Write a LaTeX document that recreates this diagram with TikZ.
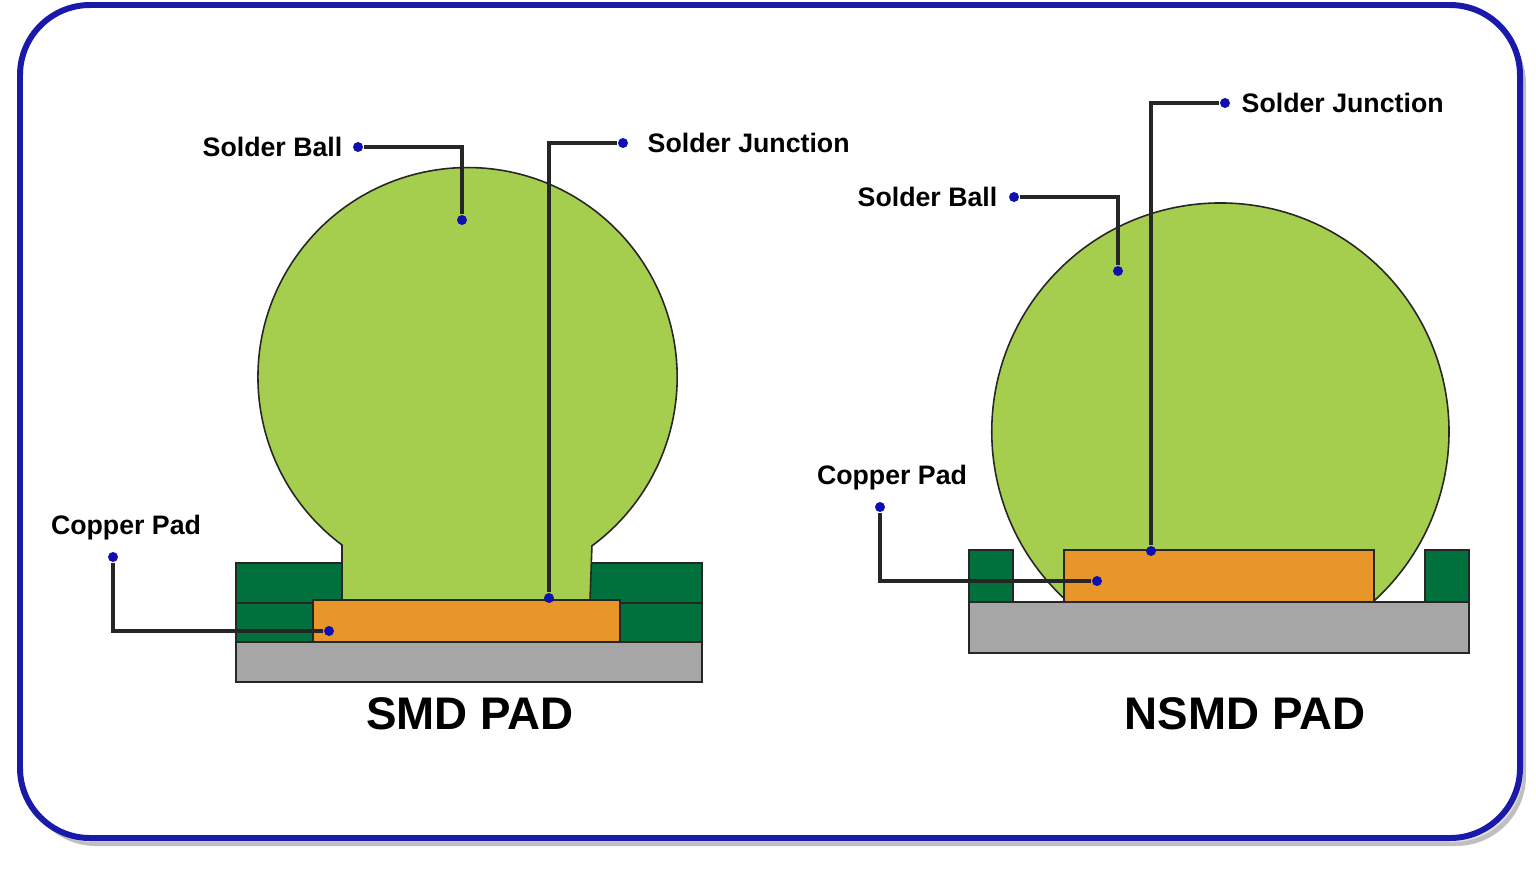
\documentclass[tikz,border=0pt]{standalone}
\usepackage{fontspec}
\setmainfont{Liberation Sans}
\begin{document}
\begin{tikzpicture}[x=0.01cm,y=-0.01cm,
  ol/.style={draw=black!85,line width=0.45pt},
  lead/.style={draw=black!85,line width=0.9pt},
  dot/.style={circle,fill=dotblue,inner sep=0pt,minimum size=0.1cm},
  lbl/.style={font=\bfseries\fontsize{7.6pt}{9pt}\selectfont,inner sep=0pt},
  ttl/.style={font=\bfseries\fontsize{13pt}{15pt}\selectfont,inner sep=0pt}]
\definecolor{ball}{HTML}{A6CE4E}
\definecolor{mask}{HTML}{00703C}
\definecolor{pad}{HTML}{E8962A}
\definecolor{sub}{HTML}{A6A6A6}
\definecolor{dotblue}{HTML}{1010B0}
\definecolor{frame}{HTML}{1A1AAA}
\useasboundingbox (0,0) rectangle (1536,872);
% frame with shadow
\fill[black!25,rounded corners=0.7cm] (26,14) rectangle (1526,846);
\fill[black!12,rounded corners=0.7cm] (23,10) rectangle (1523,842);
\draw[frame,line width=1.7pt,fill=white,rounded corners=0.7cm] (20,5) rectangle (1520,838);
% ===== SMD =====
\fill[sub,ol] (236,642) rectangle (702,682);
\fill[mask,ol] (236,563) rectangle (702,642);
\draw[ol] (236,603) -- (313,603) (620,603) -- (702,603);
\fill[ball,ol] (342,600) -- (342,545) arc[start angle=233.2,end angle=-53.6,radius=2.095cm] -- (590,600);
\fill[pad,ol] (313,600) rectangle (620,642);
% ===== NSMD =====
\fill[sub,ol] (969,602) rectangle (1469,653);
\fill[mask,ol] (969,550) rectangle (1013,602);
\fill[mask,ol] (1425,550) rectangle (1469,602);
\fill[ball,ol] (1068,602) arc[start angle=228.2,end angle=-48.2,radius=2.285cm] -- cycle;
\fill[pad,ol] (1064,550) rectangle (1374,602);
% ===== labels SMD =====
\node[dot] (sb1) at (358,147) {};
\node[dot] (sb1e) at (462,220) {};
\node[lbl,anchor=east] (tsb1) at (343,147) {Solder Ball};
\draw[lead] (sb1) -| (sb1e);
\node[dot] (sj1) at (623,143) {};
\node[dot] (sj1e) at (549,598) {};
\node[lbl,anchor=west] (tsj1) at (647,143) {Solder Junction};
\draw[lead] (sj1) -| (sj1e);
\node[dot] (cp1) at (113,557) {};
\node[dot] (cp1e) at (329,631) {};
\node[lbl] (tcp1) at (126,528) {Copper Pad};
\draw[lead] (cp1) |- (cp1e);
\node[ttl] (t1) at (470,714) {SMD PAD};
% ===== labels NSMD =====
\node[dot] (sj2) at (1225,103) {};
\node[dot] (sj2e) at (1151,551) {};
\node[lbl,anchor=west] (tsj2) at (1241,103) {Solder Junction};
\draw[lead] (sj2) -| (sj2e);
\node[dot] (sb2) at (1014,197) {};
\node[dot] (sb2e) at (1118,271) {};
\node[lbl,anchor=east] (tsb2) at (998,197) {Solder Ball};
\draw[lead] (sb2) -| (sb2e);
\node[dot] (cp2) at (880,507) {};
\node[dot] (cp2e) at (1097,581) {};
\node[lbl] (tcp2) at (892,478) {Copper Pad};
\draw[lead] (cp2) |- (cp2e);
\node[ttl] (t2) at (1245,714) {NSMD PAD};
\end{tikzpicture}
\end{document}
